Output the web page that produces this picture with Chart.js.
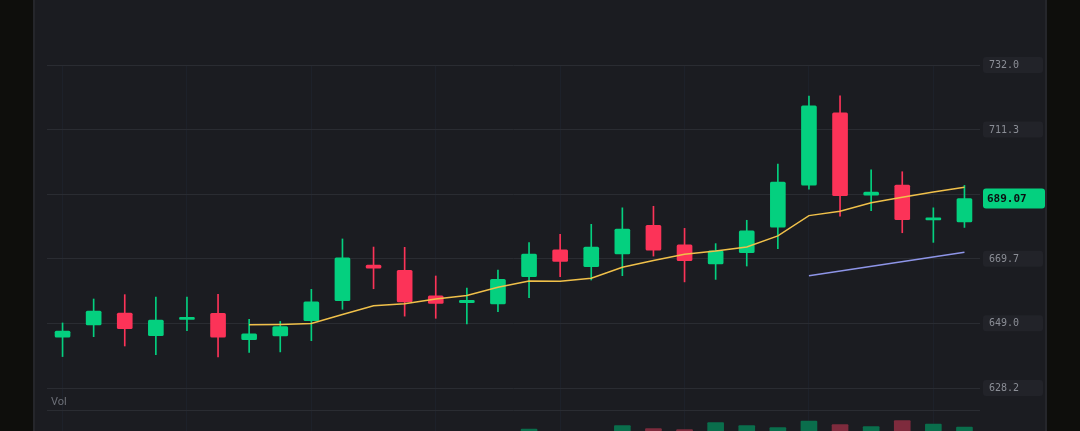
<!DOCTYPE html>
<html lang="en">
<head>
<meta charset="UTF-8">
<title>Price chart</title>
<style>
    html, body {
        margin: 0;
        padding: 0;
        background: #0e0e0c;
        overflow: hidden;
    }
    .panel {
        position: absolute;
        left: 33px;
        top: 0;
        width: 1010px;
        height: 431px;
        background: #1b1c21;
        border-left: 2px solid #25262b;
        border-right: 2px solid #25262b;
    }
    #chart {
        position: absolute;
        left: 0;
        top: 0;
    }
</style>
<script src="https://cdn.jsdelivr.net/npm/chart.js"></script>
</head>
<body>
<div class="panel"></div>
<canvas id="chart" width="1080" height="470"></canvas>
<script>
const categories = ['1', '2', '3', '4', '5', '6', '7', '8', '9', '10', '11', '12', '13', '14', '15',
    '16', '17', '18', '19', '20', '21', '22', '23', '24', '25', '26', '27', '28', '29', '30'];
const opens = [644.5, 648.5, 652.3, 645.0, 650.2, 652.2, 643.7, 644.9, 649.8, 656.3, 667.7, 666.0, 657.8, 655.6, 655.2,
    664.0, 672.6, 667.2, 671.3, 680.5, 674.2, 668.1, 671.7, 679.9, 693.4, 716.6, 690.2, 693.4, 682.2, 681.6];
const highs = [649.1, 656.8, 658.2, 657.4, 657.4, 658.3, 650.3, 649.6, 659.9, 676.1, 673.5, 673.4, 664.2, 660.3, 666.1,
    674.9, 677.6, 680.8, 686.1, 686.6, 679.5, 674.6, 682.1, 700.2, 722.0, 722.1, 698.3, 697.7, 686.1, 693.3];
const lows = [638.3, 644.7, 641.7, 638.9, 646.6, 638.2, 639.6, 639.8, 643.4, 653.5, 660.1, 651.3, 650.6, 648.8, 652.7,
    657.2, 664.0, 662.9, 664.3, 670.6, 662.3, 663.1, 667.4, 673.0, 692.1, 683.4, 685.2, 678.1, 675.0, 679.8];
const closes = [646.5, 652.9, 647.3, 650.0, 650.9, 644.5, 645.6, 647.9, 655.9, 670.0, 666.7, 655.9, 655.4, 656.4, 663.1,
    671.2, 668.9, 673.5, 679.3, 672.5, 669.1, 672.3, 678.7, 694.4, 718.9, 690.0, 691.2, 682.3, 682.9, 689.07];
const maLine = [null, null, null, null, null, null, 648.5, 648.6, 648.9, 651.8, 654.6, 655.3, 656.8, 657.9, 660.6,
    662.6, 662.5, 663.5, 667.0, 669.2, 671.2, 672.2, 673.5, 677.1, 683.6, 685.0, 687.7, 689.5, 691.2, 692.7];
const trendLine = [null, null, null, null, null, null, null, null, null, null, null, null, null, null, null,
    null, null, null, null, null, null, null, null, null, 664.3, null, null, null, null, 671.8];
const volumes = [60, 55, 62, 58, 50, 66, 52, 48, 64, 74, 56, 70, 54, 50, 68,
    82, 72, 75, 89, 83, 81, 95, 89, 85, 98, 91, 87, 99, 92, 86];
const priceTicks = [628.2, 649.0, 669.7, 690.5, 711.3, 732.0];

const UP = '#04d07f';
const DOWN = '#fc3358';
const GRID = '#2a2c32';

const isUp = opens.map((o, i) => closes[i] >= o);
const candleColors = isUp.map(u => u ? UP : DOWN);
const volColors = isUp.map(u => u ? '#0a6e4c' : '#7e2b3d');

// labels in boxes on the right, the vol pane line and title
const paneDecor = {
    id: 'paneDecor',
    beforeDatasetsDraw(chart) {
        const ctx = chart.ctx;
        const area = chart.chartArea;
        ctx.save();
        ctx.strokeStyle = GRID;
        ctx.lineWidth = 1;
        ctx.beginPath();
        ctx.moveTo(area.left, 410.5);
        ctx.lineTo(area.right, 410.5);
        ctx.stroke();
        ctx.fillStyle = '#6c6f77';
        ctx.font = '11px Roboto, sans-serif';
        ctx.textBaseline = 'alphabetic';
        ctx.fillText('Vol', 51, 405);
        ctx.restore();
    },
    afterDraw(chart) {
        const ctx = chart.ctx;
        const y = chart.scales.y;
        const last = closes[closes.length - 1];
        const lastY = y.getPixelForValue(last);
        ctx.save();
        ctx.font = '10px "DejaVu Sans Mono", monospace';
        ctx.textBaseline = 'middle';
        priceTicks.forEach(v => {
            const py = y.getPixelForValue(v);
            if (Math.abs(py - lastY) < 18) return;
            ctx.fillStyle = '#222329';
            ctx.beginPath();
            ctx.roundRect(983, py - 8, 60, 16, 3);
            ctx.fill();
            ctx.fillStyle = '#8b8e96';
            ctx.fillText(v.toFixed(1), 989, py + 0.5);
        });
        ctx.fillStyle = UP;
        ctx.beginPath();
        ctx.roundRect(983, lastY - 10, 62, 20, 3);
        ctx.fill();
        ctx.fillStyle = '#0b0e11';
        ctx.font = 'bold 11px "DejaVu Sans Mono", monospace';
        ctx.fillText(last.toFixed(2), 987, lastY + 0.5);
        ctx.restore();
    }
};

const chart = new Chart(document.getElementById('chart'), {
    type: 'bar',
    data: {
        labels: categories,
        datasets: [
            {
                type: 'line',
                data: maLine,
                borderColor: '#f0c04a',
                borderWidth: 1.5,
                pointRadius: 0,
                tension: 0,
                yAxisID: 'y',
                order: 0
            },
            {
                type: 'line',
                data: trendLine,
                borderColor: '#8e95e8',
                borderWidth: 1.5,
                pointRadius: 0,
                spanGaps: true,
                yAxisID: 'y',
                order: 0
            },
            {
                data: opens.map((o, i) => [o, closes[i]]),
                backgroundColor: candleColors,
                barThickness: 15,
                minBarLength: 2,
                borderRadius: 1.5,
                borderSkipped: false,
                grouped: false,
                yAxisID: 'y',
                order: 1
            },
            {
                data: lows.map((l, i) => [l, highs[i]]),
                backgroundColor: candleColors,
                barThickness: 1,
                grouped: false,
                yAxisID: 'y',
                order: 2
            },
            {
                data: volumes,
                backgroundColor: volColors,
                barThickness: 16,
                borderRadius: 1,
                grouped: false,
                yAxisID: 'v',
                order: 3
            }
        ]
    },
    options: {
        responsive: false,
        animation: false,
        layout: {
            padding: { left: 47, top: 65, right: 0, bottom: 0 }
        },
        plugins: {
            legend: { display: false },
            tooltip: { enabled: false }
        },
        scales: {
            x: {
                offset: true,
                ticks: { display: false },
                border: { display: false },
                grid: {
                    offset: false,
                    drawTicks: false,
                    color: c => c.index % 4 === 0 ? '#1d212a' : 'transparent'
                },
                afterFit: s => { s.height = 0; }
            },
            y: {
                position: 'right',
                min: 601.85,
                max: 732.0,
                ticks: { display: false },
                border: { display: false },
                grid: { color: GRID, drawTicks: false },
                afterBuildTicks: s => { s.ticks = priceTicks.map(v => ({ value: v })); },
                afterFit: s => { s.width = 100; }
            },
            v: {
                display: false,
                min: 0,
                max: 810
            }
        }
    },
    plugins: [paneDecor]
});
</script>
</body>
</html>
